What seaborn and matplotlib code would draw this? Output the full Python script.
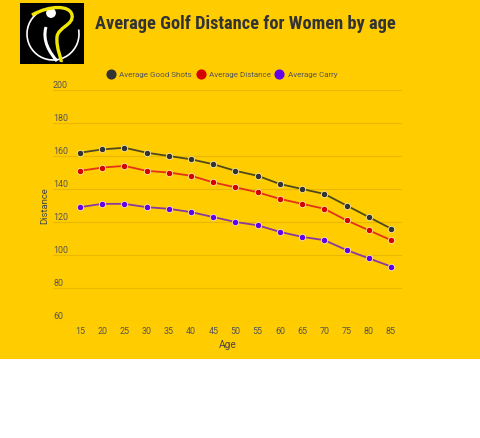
import matplotlib
matplotlib.use("Agg")
import numpy as np
import pandas as pd
import seaborn as sns
import matplotlib.pyplot as plt
from matplotlib.patches import Rectangle, Circle, Arc, PathPatch
from matplotlib.path import Path
from matplotlib.lines import Line2D
import matplotlib.transforms as mtransforms

# ---------------- data ----------------
ages = [15, 20, 25, 30, 35, 40, 45, 50, 55, 60, 65, 70, 75, 80, 85]
good_shots = [162, 164, 165, 162, 160, 158, 155, 151, 148, 143, 140, 137, 130, 123, 116]
avg_distance = [151, 153, 154, 151, 150, 148, 144, 141, 138, 134, 131, 128, 121, 115, 109]
avg_carry = [129, 131, 131, 129, 128, 126, 123, 120, 118, 114, 111, 109, 103, 98, 93]
series_names = ["Average Good Shots", "Average Distance", "Average Carry"]
y_ticks = [60, 80, 100, 120, 140, 160, 180, 200]
title = "Average Golf Distance for Women by age"

df = pd.DataFrame({
    "Age": ages * 3,
    "Distance": good_shots + avg_distance + avg_carry,
    "Series": [series_names[0]] * len(ages) + [series_names[1]] * len(ages) + [series_names[2]] * len(ages),
})

# ---------------- style ----------------
sns.set_theme(style="white")
plt.rcParams["font.family"] = ["Roboto", "DejaVu Sans"]

W, H = 480, 439
BG = "#FFCC00"
marker_colors = ["#333333", "#d50000", "#6200ea"]
line_colors = ["#4f4a1c", "#e2321a", "#8a3a9e"]
text_gray = "#555555"

fig = plt.figure(figsize=(W / 100, H / 100), dpi=100, facecolor="white")
fig.patches.append(Rectangle((0, (H - 360) / H), 1, 360 / H, transform=fig.transFigure,
                             facecolor=BG, edgecolor="none", zorder=-5))

# main axes
ax = fig.add_axes([53 / W, (H - 322) / H, 349 / W, 231 / H])
ax.set_facecolor("none")
ax.set_xlim(8.92, 87.48)
ax.set_ylim(60, 200)

for yv in y_ticks:
    ax.axhline(yv, color="#e8b900", lw=0.8, zorder=1)

for name, lc, mc in zip(series_names, line_colors, marker_colors):
    sub = df[df["Series"] == name]
    sns.lineplot(data=sub, x="Age", y="Distance", ax=ax, color=lc, lw=1.3,
                 marker="o", markersize=4.6, markerfacecolor=mc,
                 markeredgecolor="#fbeaa0", markeredgewidth=0.6, zorder=3,
                 legend=False)

for s in ax.spines.values():
    s.set_visible(False)
ax.set_yticks([])
ax.set_xticks(ages)
ax.set_xticklabels([str(a) for a in ages], fontsize=6.4, color=text_gray)
ax.tick_params(axis="x", length=0, pad=3.5)
ax.set_xlabel("Age", fontsize=7.3, color="#444444", labelpad=3)
ax.set_ylabel("")

# y tick labels above gridlines, left aligned
off = mtransforms.offset_copy(ax.get_yaxis_transform(), fig=fig, x=0, y=1.0, units="dots")
for yv in y_ticks:
    ax.text(0, yv, str(yv), transform=off, ha="left", va="bottom",
            fontsize=6.4, color=text_gray)

fig.text(45 / W, 1 - 206 / H, "Distance", rotation=90, ha="center", va="center",
         fontsize=6.8, color="#444444")

# legend
handles = [Line2D([], [], ls="none", marker="o", markersize=6.3, markerfacecolor=c,
                  markeredgecolor=c) for c in marker_colors]
leg = fig.legend(handles, series_names, loc="center", ncol=3, frameon=False,
                 bbox_to_anchor=(222 / W, 1 - 75 / H), fontsize=5.8,
                 handletextpad=0.5, columnspacing=0.6, handlelength=1.0)
for t in leg.get_texts():
    t.set_color("#555555")

# title
tt = fig.text(95 / W, 1 - 24 / H, title, ha="left", va="center", fontweight="bold",
              fontsize=14, color="#333333",
              family=["Roboto Condensed", "Liberation Sans Narrow", "Roboto"])
fig.canvas.draw()
bb = tt.get_window_extent()
tt.set_fontsize(14 * 302 / bb.width if bb.width > 0 else 14)

# logo
lax = fig.add_axes([20 / W, 1 - 65 / H, 64 / W, 61 / H])
lax.set_facecolor("black")
lax.set_xlim(0, 64)
lax.set_ylim(61, 0)
lax.set_xticks([])
lax.set_yticks([])
for s in lax.spines.values():
    s.set_visible(False)
lax.add_patch(Arc((33, 31), 52, 52, theta1=-10, theta2=250, color="white", lw=1.2))
lax.add_patch(Circle((31, 10), 4.2, color="white"))
yel = Path([(12, 12), (30, 2), (50, 2), (52, 12), (54, 22), (38, 24), (37, 34), (36, 46), (42, 56), (41, 59)],
           [Path.MOVETO, Path.CURVE4, Path.CURVE4, Path.CURVE4, Path.CURVE4, Path.CURVE4, Path.CURVE4,
            Path.CURVE4, Path.CURVE4, Path.CURVE4])
lax.add_patch(PathPatch(yel, facecolor="none", edgecolor="#f2e600", lw=2.4))
wht = Path([(26, 24), (22, 38), (30, 50), (37, 58)],
           [Path.MOVETO, Path.CURVE4, Path.CURVE4, Path.CURVE4])
lax.add_patch(PathPatch(wht, facecolor="none", edgecolor="white", lw=2.2))

fig.savefig("out.png", dpi=100, facecolor="white")
